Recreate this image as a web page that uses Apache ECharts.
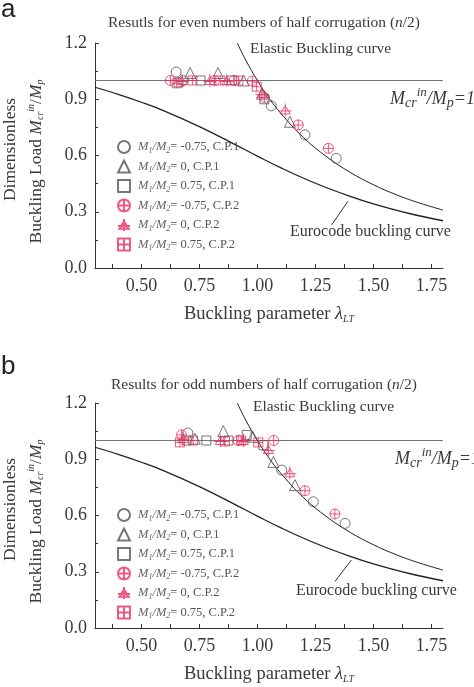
<!DOCTYPE html>
<html>
<head>
<meta charset="utf-8">
<script src="https://cdn.jsdelivr.net/npm/echarts@6/dist/echarts.min.js"></script>
<style>
  html, body { margin: 0; padding: 0; background: #fff; }
  #chart { width: 474px; height: 687px; }
</style>
</head>
<body>
<div id="chart"></div>
<script>
// axis ticks
var xLabelTicks = [0.5, 0.75, 1.0, 1.25, 1.5, 1.75];
var xAllTicks = [0.375, 0.5, 0.625, 0.75, 0.875, 1.0, 1.125, 1.25, 1.375, 1.5, 1.625, 1.75];

// curves (same in both panels)
var plateauLine = [[0.3, 1.0], [1.8, 1.0]];
var elasticCurve = [[0.913, 1.2], [0.95, 1.108], [1.0, 1.0], [1.05, 0.907], [1.1, 0.826],
  [1.2, 0.694], [1.3, 0.592], [1.4, 0.51], [1.5, 0.444], [1.6, 0.39], [1.7, 0.346], [1.8, 0.309]];
var eurocodeCurve = [[0.3, 0.964], [0.4, 0.926], [0.5, 0.884], [0.6, 0.837], [0.75, 0.754],
  [0.9, 0.661], [1.0, 0.597], [1.1, 0.535], [1.25, 0.452], [1.4, 0.382], [1.5, 0.342],
  [1.65, 0.292], [1.8, 0.252]];
var arrowA = [[1.32, 0.23], [1.39, 0.355]];
var arrowB = [[1.334, 0.248], [1.405, 0.362]];

var caseNames = ['M1/M2= -0.75, C.P.1', 'M1/M2= 0, C.P.1', 'M1/M2= 0.75, C.P.1',
  'M1/M2= -0.75, C.P.2', 'M1/M2= 0, C.P.2', 'M1/M2= 0.75, C.P.2'];

// panel a : even numbers of half corrugation
var evenCircle = [[0.65, 1.045], [0.68, 1.0], [1.06, 0.865], [1.205, 0.71], [1.34, 0.585]];
var evenTriangle = [[0.71, 1.04], [0.83, 1.04], [0.94, 1.0], [1.14, 0.78], [1.02, 0.93]];
var evenSquare = [[0.66, 0.99], [0.755, 1.0], [0.89, 1.0], [1.03, 0.9]];
var evenCirclePlus = [[0.625, 1.0], [0.815, 1.0], [0.9, 1.0], [0.978, 0.997], [1.03, 0.91], [1.176, 0.763], [1.306, 0.638]];
var evenTrianglePlus = [[0.675, 1.0], [0.795, 1.0], [0.868, 1.0], [1.019, 0.93], [1.12, 0.843]];
var evenSquarePlus = [[0.652, 0.985], [0.72, 1.0], [0.84, 1.0], [0.918, 1.0], [0.997, 0.967]];

// panel b : odd numbers of half corrugation
var oddCircle = [[0.70, 1.04], [1.105, 0.842], [1.241, 0.673], [1.378, 0.558]];
var oddTriangle = [[0.73, 1.01], [0.853, 1.05], [0.98, 1.02], [1.069, 0.886], [1.162, 0.762]];
var oddSquare = [[0.695, 1.0], [0.78, 1.0], [0.875, 1.0], [0.954, 1.03], [1.026, 0.975]];
var oddCirclePlus = [[0.673, 1.03], [0.917, 1.0], [1.07, 1.0], [1.205, 0.732], [1.334, 0.608]];
var oddTrianglePlus = [[0.68, 1.01], [0.84, 1.0], [0.94, 1.0], [1.047, 0.952], [1.14, 0.828]];
var oddSquarePlus = [[0.666, 0.99], [0.723, 1.0], [0.86, 0.995], [0.93, 1.0], [1.004, 0.99]];

var evenSets = [evenCircle, evenTriangle, evenSquare, evenCirclePlus, evenTrianglePlus, evenSquarePlus];
var oddSets = [oddCircle, oddTriangle, oddSquare, oddCirclePlus, oddTrianglePlus, oddSquarePlus];

var SERIF = 'Liberation Serif';
var TXT = '#3a3a3a';
var RED = '#e8305f';
var GREY = '#555';

var symbols = [
  'circle',
  'triangle',
  'rect',
  'path://M-10,0A10,10,0,1,0,10,0A10,10,0,1,0,-10,0ZM0,-10L0,10M-10,0L10,0',
  'path://M0,-8L10,8L-10,8ZM0,-13L0,13M-13,2L13,2',
  'path://M-10,-10L10,-10L10,10L-10,10ZM0,-10L0,10M-10,0L10,0'
];
var symbolSizes = [10, 11, 9, 10, 13, 9];

var myChart = echarts.init(document.getElementById('chart'));

function xAxisFor(gridIndex) {
  return {
    gridIndex: gridIndex,
    type: 'value',
    min: 0.3,
    max: 1.8,
    name: '{t|Buckling parameter }{i|λ}{s|LT}',
    nameLocation: 'middle',
    nameGap: 36,
    nameTextStyle: {
      rich: {
        t: { fontFamily: SERIF, fontSize: 18.5, color: TXT },
        i: { fontFamily: SERIF, fontSize: 18.5, fontStyle: 'italic', color: TXT },
        s: { fontFamily: SERIF, fontSize: 10, fontStyle: 'italic', color: TXT, padding: [10, 0, 0, 0] }
      }
    },
    axisLine: { lineStyle: { color: '#333', width: 1 } },
    axisTick: { inside: true, length: 4, customValues: xAllTicks, lineStyle: { color: '#333' } },
    axisLabel: {
      customValues: xLabelTicks,
      margin: 9,
      fontFamily: SERIF, fontSize: 18, color: TXT,
      formatter: function (v) { return v.toFixed(2); }
    },
    splitLine: { show: false }
  };
}

function yAxisFor(gridIndex) {
  return {
    gridIndex: gridIndex,
    type: 'value',
    min: 0,
    max: 1.2,
    interval: 0.3,
    name: '{d|Dimensionless}\n{t|Buckling Load }{i|M}{s|cr}{p|in}{t|/}{i|M}{q|p}',
    nameLocation: 'middle',
    nameRotate: 90,
    nameGap: 46,
    nameTextStyle: {
      align: 'center',
      rich: {
        d: { fontFamily: SERIF, fontSize: 17.5, color: TXT, lineHeight: 26, padding: [0, 0, 0, 12] },
        t: { fontFamily: SERIF, fontSize: 17.5, color: TXT, lineHeight: 26 },
        i: { fontFamily: SERIF, fontSize: 17.5, fontStyle: 'italic', color: TXT, lineHeight: 26 },
        s: { fontFamily: SERIF, fontSize: 10, fontStyle: 'italic', color: TXT, padding: [9, 0, 0, 0] },
        q: { fontFamily: SERIF, fontSize: 10, fontStyle: 'italic', color: TXT, padding: [9, 12, 0, 0] },
        p: { fontFamily: SERIF, fontSize: 10, fontStyle: 'italic', color: TXT, padding: [0, 0, 10, 0] }
      }
    },
    axisLine: { show: true, lineStyle: { color: '#333', width: 1 } },
    axisTick: { show: true, inside: true, length: 4, lineStyle: { color: '#333' } },
    minorTick: { show: true, splitNumber: 2, length: 3, lineStyle: { color: '#333' } },
    axisLabel: {
      margin: 8,
      fontFamily: SERIF, fontSize: 18, color: TXT,
      formatter: function (v) { return v.toFixed(1); }
    },
    splitLine: { show: false }
  };
}

function curveSeries(idx, arrow) {
  return [
    {
      type: 'line', xAxisIndex: idx, yAxisIndex: idx, data: plateauLine,
      symbol: 'none', silent: true, lineStyle: { color: '#777', width: 1.2 }, z: 1
    },
    {
      type: 'line', xAxisIndex: idx, yAxisIndex: idx, data: elasticCurve, smooth: 0.4,
      symbol: 'none', silent: true, lineStyle: { color: '#222', width: 1 }, z: 1
    },
    {
      type: 'line', xAxisIndex: idx, yAxisIndex: idx, data: eurocodeCurve, smooth: 0.4,
      symbol: 'none', silent: true, lineStyle: { color: '#222', width: 1.3 }, z: 1,
      markLine: {
        silent: true,
        symbol: ['none', 'arrow'],
        symbolSize: [0, 6],
        label: { show: false },
        lineStyle: { color: '#333', width: 1, type: 'solid' },
        data: [[{ coord: arrow[0] }, { coord: arrow[1] }]]
      }
    }
  ];
}

function markerSeries(idx, sets) {
  return sets.map(function (pts, k) {
    var red = k >= 3;
    return {
      name: caseNames[k],
      type: 'scatter',
      xAxisIndex: idx, yAxisIndex: idx,
      data: pts,
      symbol: symbols[k],
      symbolSize: symbolSizes[k],
      itemStyle: {
        color: 'rgba(0,0,0,0)',
        borderColor: red ? RED : GREY,
        borderWidth: 1
      },
      z: 3
    };
  });
}

function legendFor(top) {
  return {
    data: caseNames,
    orient: 'vertical',
    left: 112,
    top: top,
    itemWidth: 12,
    itemHeight: 12,
    itemGap: 5,
    selectedMode: false,
    formatter: function (name) {
      return '{i|M}{s|1}{i|/M}{s|2}{t|' + name.slice(5) + '}';
    },
    textStyle: {
      padding: [0, 0, 0, 3],
      rich: {
        i: { fontFamily: SERIF, fontSize: 12.5, fontStyle: 'italic', color: '#666' },
        s: { fontFamily: SERIF, fontSize: 8, fontStyle: 'italic', color: '#666', padding: [7, 0, 0, 0] },
        t: { fontFamily: SERIF, fontSize: 12.5, color: '#555' }
      }
    }
  };
}

function titleText(x, y, txt) {
  return {
    type: 'text', x: x, y: y,
    style: {
      text: '{t|' + txt + ' (}{i|n}{t|/2)}',
      align: 'center', verticalAlign: 'middle',
      rich: {
        t: { fontFamily: SERIF, fontSize: 15.5, fill: TXT },
        i: { fontFamily: SERIF, fontSize: 15.5, fontStyle: 'italic', fill: TXT }
      }
    }
  };
}

function plainText(x, y, txt, size) {
  return {
    type: 'text', x: x, y: y,
    style: { text: txt, fontFamily: SERIF, fontSize: size, fill: TXT, verticalAlign: 'middle' }
  };
}

function ratioText(x, y) {
  return {
    type: 'text', x: x, y: y,
    style: {
      text: '{i|M}{s|cr}{p|in}{i|/M}{s|p}{i|=1}',
      verticalAlign: 'middle',
      rich: {
        i: { fontFamily: SERIF, fontSize: 18, fontStyle: 'italic', fill: TXT },
        s: { fontFamily: SERIF, fontSize: 14, fontStyle: 'italic', fill: TXT, padding: [9, 0, 0, 0] },
        p: { fontFamily: SERIF, fontSize: 13, fontStyle: 'italic', fill: TXT, padding: [0, 0, 12, 0] }
      }
    }
  };
}

var option = {
  backgroundColor: '#fff',
  animation: false,
  grid: [
    { left: 95, top: 43, width: 348, height: 225, outerBoundsMode: 'none' },
    { left: 95, top: 403, width: 348, height: 225, outerBoundsMode: 'none' }
  ],
  xAxis: [xAxisFor(0), xAxisFor(1)],
  yAxis: [yAxisFor(0), yAxisFor(1)],
  legend: [legendFor(135), legendFor(503)],
  series: [].concat(
    curveSeries(0, arrowA), markerSeries(0, evenSets),
    curveSeries(1, arrowB), markerSeries(1, oddSets)
  ),
  graphic: [
    { type: 'text', x: 1, y: 10, style: { text: 'a', fontFamily: 'Liberation Sans', fontSize: 26, fill: '#222', verticalAlign: 'middle' } },
    { type: 'text', x: 1, y: 367, style: { text: 'b', fontFamily: 'Liberation Sans', fontSize: 26, fill: '#222', verticalAlign: 'middle' } },
    titleText(264, 23, 'Resutls for even numbers of half corrugation'),
    titleText(264, 385, 'Results for odd numbers of half corrugation'),
    plainText(250, 49, 'Elastic Buckling curve', 15.5),
    plainText(253, 407, 'Elastic Buckling curve', 15.5),
    plainText(290, 232, 'Eurocode buckling curve', 16),
    plainText(296, 591, 'Eurocode buckling curve', 16),
    ratioText(390, 99),
    ratioText(395, 459)
  ]
};

myChart.setOption(option);
</script>
</body>
</html>
